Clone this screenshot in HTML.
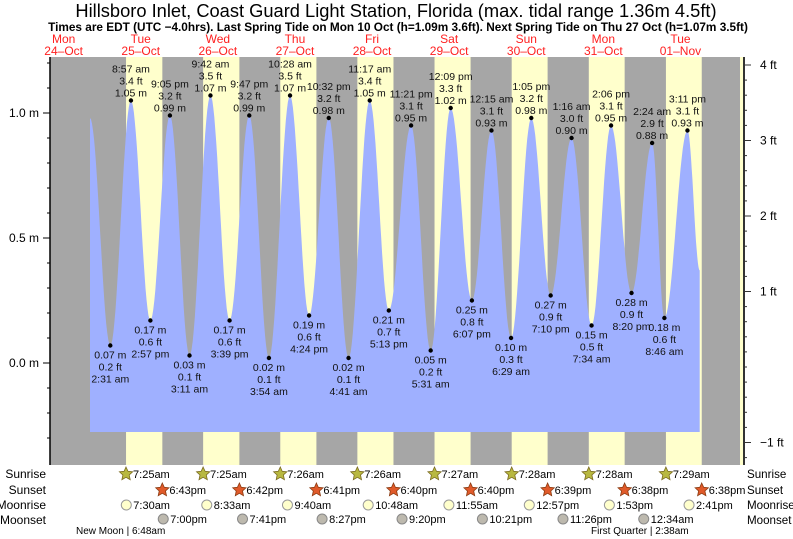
<!DOCTYPE html>
<html><head><meta charset="utf-8">
<style>
body{margin:0;background:#fff;}
svg{display:block;font-family:"Liberation Sans",sans-serif;}
</style></head>
<body>
<svg id="chart" width="793" height="539" viewBox="0 0 793 539" xmlns="http://www.w3.org/2000/svg">
<text x="396" y="17" font-size="18.3" text-anchor="middle">Hillsboro Inlet, Coast Guard Light Station, Florida (max. tidal range 1.36m 4.5ft)</text>
<text x="398" y="31" font-size="11.8" font-weight="bold" text-anchor="middle">Times are EDT (UTC −4.0hrs). Last Spring Tide on Mon 10 Oct (h=1.09m 3.6ft). Next Spring Tide on Thu 27 Oct (h=1.07m 3.5ft)</text>
<g id="g"></g>
</svg>
<script>
// ---- data ----
var dayNames = ["Mon","Tue","Wed","Thu","Fri","Sat","Sun","Mon","Tue"];
var dayDates = ["24\u2013Oct","25\u2013Oct","26\u2013Oct","27\u2013Oct","28\u2013Oct","29\u2013Oct","30\u2013Oct","31\u2013Oct","01\u2013Nov"];
// extremes: hours since Mon 24-Oct 00:00
var tideHours = [20.2, 26.52, 32.95, 39.0, 45.08, 51.18, 57.7, 63.65, 69.78, 75.9, 82.47, 88.4, 94.53, 100.68, 107.28, 113.22, 120.15, 126.25, 132.48, 139.08, 145.17, 151.27, 157.57, 163.6, 170.1, 176.33, 182.4, 188.77, 195.18, 199.0];
var tideMeters = [0.98, 0.07, 1.05, 0.17, 0.99, 0.03, 1.07, 0.17, 0.99, 0.02, 1.07, 0.19, 0.98, 0.02, 1.05, 0.21, 0.95, 0.05, 1.02, 0.25, 0.93, 0.10, 0.98, 0.27, 0.90, 0.15, 0.95, 0.28, 0.88, 0.18];
var tideTimes = ["", "2:31 am","8:57 am","2:57 pm","9:05 pm","3:11 am","9:42 am","3:39 pm","9:47 pm","3:54 am","10:28 am","4:24 pm","10:32 pm","4:41 am","11:17 am","5:13 pm","11:21 pm","5:31 am","12:09 pm","6:07 pm","12:15 am","6:29 am","1:05 pm","7:10 pm","1:16 am","7:34 am","2:06 pm","8:20 pm","2:24 am","8:46 am"];
var tideFeet = ["", "0.2","3.4","0.6","3.2","0.1","3.5","0.6","3.2","0.1","3.5","0.6","3.2","0.1","3.4","0.7","3.1","0.2","3.3","0.8","3.1","0.3","3.2","0.9","3.0","0.5","3.1","0.9","2.9","0.6"];
var lastHigh = {h:206.18, m:0.93, t:"3:11 pm", ft:"3.1"};
var endHour = 210.0, endMeters = 0.37;
var sunrise = [7.42,7.42,7.43,7.43,7.45,7.47,7.47,7.48];
var sunset = [18.72,18.70,18.68,18.67,18.67,18.65,18.63,18.63];
var sunriseLbl = ["7:25am","7:25am","7:26am","7:26am","7:27am","7:28am","7:28am","7:29am"];
var sunsetLbl = ["6:43pm","6:42pm","6:41pm","6:40pm","6:40pm","6:39pm","6:38pm","6:38pm"];
var moonrise = [7.5,8.55,9.67,10.8,11.92,12.95,13.88,14.68];
var moonriseLbl = ["7:30am","8:33am","9:40am","10:48am","11:55am","12:57pm","1:53pm","2:41pm"];
var moonsetH = [19.0+24,19.68+48,20.45+72,21.33+96,22.35+120,23.43+144,24.57+168];
var moonsetLbl = ["7:00pm","7:41pm","8:27pm","9:20pm","10:21pm","11:26pm","12:34am"];
var mTicks = [0.0,0.5,1.0];
var mTickLbl = ["0.0 m","0.5 m","1.0 m"];
var ftTicks = [-1,1,2,3,4];
var ftTickLbl = ["\u22121 ft","1 ft","2 ft","3 ft","4 ft"];

// ---- axes ----
var X0=50,X1=740,Y0=57,Y1=465;
function xh(h){return 25.1+h*77.1/24;}
function ym(m){return 363-250*m;}
function yft(f){return 367-75.5*f;}
var NS="http://www.w3.org/2000/svg",g=document.getElementById("g");
function el(t,a,txt){var e=document.createElementNS(NS,t);for(var k in a)e.setAttribute(k,a[k]);if(txt!=null)e.textContent=txt;g.appendChild(e);return e;}

var bg=el("rect",{x:X0,y:Y0,width:X1-X0,height:Y1-Y0,fill:"#a6a6a6"});


for(var d=0;d<8;d++){
  var a=xh((d+1)*24+sunrise[d]),b=xh((d+1)*24+sunset[d]);
  var r=el("rect",{x:a,y:Y0,width:b-a,height:Y1-Y0,fill:"#ffffcc"});
  
  
}
var st=el("rect",{x:X1,y:Y0,width:3,height:Y1-Y0,fill:"#ffffcc"});


// day labels
for(var i=0;i<dayNames.length;i++){
  var cx=xh(i*24+12);
  var t1=el("text",{x:cx,y:43,"font-size":12,fill:"#ff2020","text-anchor":"middle"},dayNames[i]);
  
  
  var t2=el("text",{x:cx,y:55,"font-size":12,fill:"#ff2020","text-anchor":"middle"},dayDates[i]);
  
  
}
// tide curve
var H=tideHours.concat([lastHigh.h,endHour]),M=tideMeters.concat([lastHigh.m,endMeters]);
var yb=432,pts=[];
for(var i=0;i<H.length-1;i++){
  for(var s=0;s<=20;s++){var f=s/20,h=H[i]+(H[i+1]-H[i])*f,m=M[i]+(M[i+1]-M[i])*(1-Math.cos(Math.PI*f))/2;pts.push(xh(h).toFixed(1)+","+ym(m).toFixed(1));}
}
var path="M"+xh(H[0]).toFixed(1)+","+yb+" L"+pts.join(" L")+" L"+xh(endHour).toFixed(1)+","+yb+" Z";
var tp=el("path",{d:path,fill:"#9fb0ff"});


// extremes labels
var L=tideHours.slice(1).map(function(h,i){return {h:h,m:tideMeters[i+1],t:tideTimes[i+1],ft:tideFeet[i+1]};});
L.push(lastHigh);
L.forEach(function(p,i){
  var x=xh(p.h),y=ym(p.m),high=p.m>0.5;
  var c=el("circle",{cx:x,cy:y,r:2.2,fill:"#000"});
  
  
  var lines=high?[p.t,p.ft+" ft",p.m.toFixed(2)+" m"]:[p.m.toFixed(2)+" m",p.ft+" ft",p.t];
  lines.forEach(function(s,k){
    var yy=high?y-28+k*12:y+13+k*12;
    var tx=el("text",{x:x,y:yy,"font-size":10.5,"text-anchor":"middle",fill:"#111"},s);
    
    
  });
});
// left axis
var la=el("line",{x1:X0,y1:Y0,x2:X0,y2:Y1,stroke:"#000","stroke-width":1.5});


for(var v=-0.3;v<=1.21;v+=0.1){el("line",{x1:X0-3,y1:ym(v),x2:X0,y2:ym(v),stroke:"#000"});}
mTicks.forEach(function(v,i){
  el("line",{x1:X0-7,y1:ym(v),x2:X0,y2:ym(v),stroke:"#000"});
  var t=el("text",{x:X0-11,y:ym(v)+4,"font-size":12,"text-anchor":"end"},mTickLbl[i]);
  
  
});
// right axis
var RX=744;
var ra=el("line",{x1:RX,y1:Y0,x2:RX,y2:Y1,stroke:"#333","stroke-width":2});


for(var f=-1.2;f<=4.01;f+=0.2){el("line",{x1:RX,y1:yft(f),x2:RX+3,y2:yft(f),stroke:"#333"});}
ftTicks.forEach(function(v,i){
  el("line",{x1:RX,y1:yft(v),x2:RX+7,y2:yft(v),stroke:"#333"});
  var t=el("text",{x:RX+16,y:yft(v)+4,"font-size":12},ftTickLbl[i]);
  
  
});
// bottom rows
var rows=[["Sunrise",478],["Sunset",494],["Moonrise",509],["Moonset",524]];
rows.forEach(function(r){
  var a=el("text",{x:46,y:r[1],"font-size":12,"text-anchor":"end"},r[0]);
  
  
  var b=el("text",{x:747,y:r[1],"font-size":11.6},r[0]);
  
  
});
function star(cx,cy,fill,stroke){
  var p=[];for(var k=0;k<10;k++){var ang=-Math.PI/2+k*Math.PI/5,rr=k%2?3.3:7;p.push((cx+rr*Math.cos(ang)).toFixed(1)+","+(cy+rr*Math.sin(ang)).toFixed(1));}
  return el("polygon",{points:p.join(" "),fill:fill,stroke:stroke,"stroke-width":0.8});
}
for(var d=0;d<8;d++){
  var x=xh((d+1)*24+sunrise[d]);
  var s1=star(x,474,"#b8b840","#7a6a20");
  
  
  var t=el("text",{x:x+7,y:478,"font-size":11},sunriseLbl[d]);
  
  
  x=xh((d+1)*24+sunset[d]);
  var s2=star(x,490,"#e05a2a","#8a3a10");
  
  
  t=el("text",{x:x+7,y:494,"font-size":11},sunsetLbl[d]);
  
  
  x=xh((d+1)*24+moonrise[d]);
  var c=el("circle",{cx:x,cy:505,r:5,fill:"#ffffcc",stroke:"#999"});
  
  
  t=el("text",{x:x+7,y:509,"font-size":11},moonriseLbl[d]);
  
  
}
moonsetH.forEach(function(h,i){
  var x=xh(h);
  var c=el("circle",{cx:x,cy:519,r:5,fill:"#bdb9ae",stroke:"#888"});
  
  
  var t=el("text",{x:x+7,y:523,"font-size":11},moonsetLbl[i]);
  
  
});
var n1=el("text",{x:76,y:534,"font-size":10},"New Moon | 6:48am");


var n2=el("text",{x:591,y:534,"font-size":10},"First Quarter | 2:38am");


</script>
</body></html>
